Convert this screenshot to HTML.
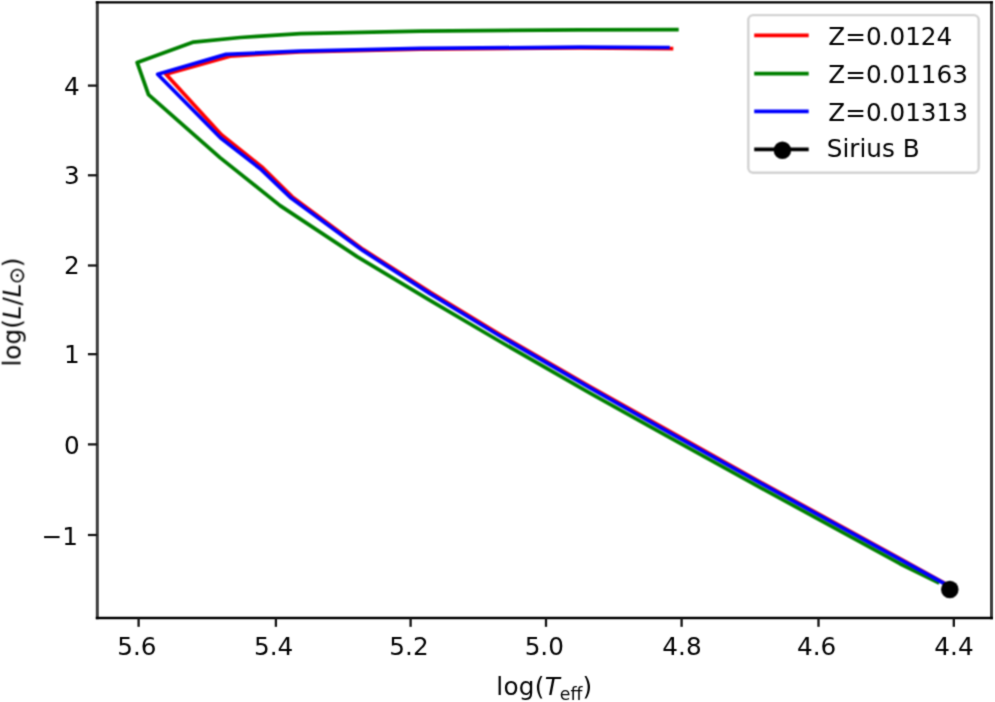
<!DOCTYPE html>
<html lang="en">
<head>
<meta charset="utf-8">
<title>HR diagram</title>
<style>
html,body{margin:0;padding:0;background:#fff;}
body{width:995px;height:702px;overflow:hidden;}
svg{display:block;}
text{font-family:"DejaVu Sans","Liberation Sans",sans-serif;font-size:24.7px;fill:#000;}
.it{font-style:italic;}
</style>
</head>
<body>
<svg width="995" height="702" viewBox="0 0 995 702">
<defs><filter id="soft" x="0" y="0" width="100%" height="100%" filterUnits="userSpaceOnUse" color-interpolation-filters="sRGB"><feConvolveMatrix order="3" kernelMatrix="1 2 1 2 4 2 1 2 1" divisor="16" edgeMode="duplicate" preserveAlpha="false"/></filter><filter id="softt" x="0" y="0" width="100%" height="100%" filterUnits="userSpaceOnUse" color-interpolation-filters="sRGB"><feConvolveMatrix order="3" kernelMatrix="1 3 1 3 16 3 1 3 1" divisor="32" edgeMode="duplicate" preserveAlpha="false"/></filter></defs>
<rect x="0" y="0" width="995" height="702" fill="#fff"/>
<g filter="url(#soft)">
<!-- data lines -->
<g fill="none" stroke-width="3.75" stroke-linejoin="round" stroke-linecap="butt">
<polyline stroke="#ff0000" points="673.3,48.6 580,47.9 421,49.1 300,51.8 230,56.1 165.8,74.1 221.4,134.8 261.8,166.9 292,196.7 363.1,249.4 430,292.1 500,334.6 590,386.6 660,426 760,481.8 900,558.7 947,584.6"/>
<polyline stroke="#008000" points="678.7,29.6 580,29.9 421,31.2 300.6,33.7 240.3,37.5 193.5,42.1 137.2,62.6 148.5,94.6 220,157.6 280.1,205.6 357.1,256.6 430,300.3 500,341.5 590,393.1 660,432.1 760,487.3 900,563.7 939.3,583.1"/>
<polyline stroke="#0000ff" points="669.8,47.5 580,47.2 421,48.4 300,51.2 226,54.4 157.7,74.2 220.4,137.8 260.2,168.7 291.1,198.1 363.1,250.7 430,293.7 500,336 590,387.9 660,427.3 760,482.9 900,559.4 947,585"/>
</g>
<!-- marker -->
<circle cx="949.8" cy="589.5" r="8.75" fill="#000"/>
<!-- legend -->
<rect x="748.3" y="15.1" width="230.4" height="157.7" rx="5" ry="5" fill="#fff" fill-opacity="0.8" stroke="#d2d2d2" stroke-width="2.4"/>
<g stroke-width="3.75" fill="none">
<line x1="754.2" y1="35.3" x2="808.7" y2="35.3" stroke="#ff0000"/>
<line x1="754.2" y1="73.5" x2="808.7" y2="73.5" stroke="#008000"/>
<line x1="754.2" y1="111.4" x2="808.7" y2="111.4" stroke="#0000ff"/>
<line x1="754.2" y1="149.4" x2="808.7" y2="149.4" stroke="#000"/>
</g>
<circle cx="782.4" cy="150.3" r="8.75" fill="#000"/>
</g>
<g filter="url(#softt)">
<!-- axes frame -->
<g fill="none">
<line x1="97.3" y1="1.2" x2="97.3" y2="619.2" stroke="#3e3e3e" stroke-width="3"/>
<line x1="991.5" y1="1.2" x2="991.5" y2="619.2" stroke="#3e3e3e" stroke-width="3"/>
<line x1="95.8" y1="2.3" x2="993" y2="2.3" stroke="#000" stroke-width="2.2"/>
<line x1="95.8" y1="617.95" x2="993" y2="617.95" stroke="#000" stroke-width="2.5"/>
</g>
<!-- ticks -->
<g stroke="#161616" stroke-width="2.35">
<line x1="138.6" y1="618" x2="138.6" y2="626.8"/>
<line x1="275.9" y1="618" x2="275.9" y2="626.8"/>
<line x1="410.6" y1="618" x2="410.6" y2="626.8"/>
<line x1="546" y1="618" x2="546" y2="626.8"/>
<line x1="681.6" y1="618" x2="681.6" y2="626.8"/>
<line x1="818.5" y1="618" x2="818.5" y2="626.8"/>
<line x1="953.8" y1="618" x2="953.8" y2="626.8"/>
</g>
<g stroke="#161616" stroke-width="2.3">
<line x1="87.9" y1="85.6" x2="97.3" y2="85.6"/>
<line x1="87.9" y1="175.3" x2="97.3" y2="175.3"/>
<line x1="87.9" y1="265.5" x2="97.3" y2="265.5"/>
<line x1="87.9" y1="354.2" x2="97.3" y2="354.2"/>
<line x1="87.9" y1="444.4" x2="97.3" y2="444.4"/>
<line x1="87.9" y1="535" x2="97.3" y2="535"/>
</g>
</g>
<g filter="url(#softt)">
<!-- tick labels -->
<g text-anchor="middle">
<text x="136.9" y="654.8">5.6</text>
<text x="273.7" y="654.8">5.4</text>
<text x="409" y="654.8">5.2</text>
<text x="544.3" y="654.8">5.0</text>
<text x="682" y="654.8">4.8</text>
<text x="816.7" y="654.8">4.6</text>
<text x="954" y="654.8">4.4</text>
</g>
<g text-anchor="end">
<text x="79.7" y="95">4</text>
<text x="79.7" y="184.4">3</text>
<text x="79.7" y="274.2">2</text>
<text x="79.7" y="363.4">1</text>
<text x="79.7" y="453.6">0</text>
<text x="78" y="545">−1</text>
</g>
<!-- axis labels -->
<text x="496.3" y="695.2"><tspan letter-spacing="0.3">log(</tspan><tspan class="it">T</tspan><tspan font-size="17.3" dy="4.3">eff</tspan><tspan dy="-4.3">)</tspan></text>
<text transform="translate(20.6,366.5) rotate(-90)">log(<tspan class="it">L</tspan>/<tspan class="it">L</tspan><tspan font-size="20.6" dy="2.6" dx="-0.8">⊙</tspan><tspan dy="-2.6" dx="-0.4">)</tspan></text>
<!-- legend labels -->
<text x="828.3" y="44.9">Z=0.0124</text>
<text x="828.3" y="82.9">Z=0.01163</text>
<text x="828.3" y="120.5">Z=0.01313</text>
<text x="826.8" y="157">Sirius B</text>
</g>
</svg>
</body>
</html>
